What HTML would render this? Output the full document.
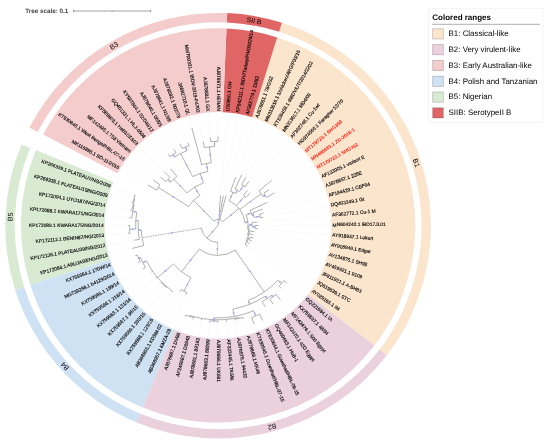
<!DOCTYPE html>
<html><head><meta charset="utf-8"><title>Tree</title>
<style>html,body{margin:0;padding:0;background:#fff}svg{display:block}</style></head>
<body>
<svg width="550" height="445" viewBox="0 0 550 445" font-family="'Liberation Sans', sans-serif" text-rendering="geometricPrecision">
<rect width="550" height="445" fill="#fff"/>
<path d="M30.2 284.8A197.1 197.1 0 0 1 35.9 150.1L113.4 182.1A113.3 113.3 0 0 0 110.1 259.6Z" fill="#d9ead3"/>
<path d="M15.2 289.9A212.8 212.8 0 0 1 21.4 144.4L30.1 148A203.4 203.4 0 0 0 24.2 287Z" fill="#d9ead3"/>
<path d="M142.8 407.6A197.1 197.1 0 0 1 30.2 284.8L110.1 259.6A113.3 113.3 0 0 0 174.8 330.1Z" fill="#cfe2f3"/>
<path d="M136.8 422.4A212.8 212.8 0 0 1 15.2 289.9L24.2 287A203.4 203.4 0 0 0 140.4 413.7Z" fill="#cfe2f3"/>
<path d="M374.6 345.3A197.1 197.1 0 0 1 142.8 407.6L174.8 330.1A113.3 113.3 0 0 0 308 294.3Z" fill="#ead1dc"/>
<path d="M387 355.1A212.8 212.8 0 0 1 136.8 422.4L140.4 413.7A203.4 203.4 0 0 0 379.6 349.4Z" fill="#ead1dc"/>
<path d="M277.2 37.4A197.1 197.1 0 0 1 374.6 345.3L308 294.3A113.3 113.3 0 0 0 252.1 117.3Z" fill="#fce5cd"/>
<path d="M281.9 22.7A212.8 212.8 0 0 1 387 355.1L379.6 349.4A203.4 203.4 0 0 0 279.1 31.7Z" fill="#fce5cd"/>
<path d="M226.5 28.5A197.1 197.1 0 0 1 277.2 37.4L252.1 117.3A113.3 113.3 0 0 0 222.9 112.2Z" fill="#e06666"/>
<path d="M227.2 13.1A212.8 212.8 0 0 1 281.9 22.7L279.1 31.7A203.4 203.4 0 0 0 226.8 22.5Z" fill="#e06666"/>
<path d="M43.2 134.5A197.1 197.1 0 0 1 226.5 28.5L222.9 112.2A113.3 113.3 0 0 0 117.6 173.2Z" fill="#f4cccc"/>
<path d="M29.3 127.6A212.8 212.8 0 0 1 227.2 13.1L226.8 22.5A203.4 203.4 0 0 0 37.6 131.9Z" fill="#f4cccc"/>
<path d="M134 194.9L111.6 186.7M131.6 202.3L108.6 196.2M130.4 210L106.5 205.8M129.4 217.7L105.2 215.6M128.1 225.5L104.8 225.5M128 233.4L105.2 235.4M134.4 240.2L106.5 245.2M132.2 248.5L108.7 254.8M135.4 255.6L111.7 264.2M138.4 262.7L115.5 273.4M142.8 269L120 282.1M151.4 272.2L125.3 290.5M155.7 277.8L131.4 298.3M160.3 283.3L138.1 305.6M165.6 288.1L145.3 312.3M171.4 292.2L153.2 318.3M179.9 291.7L161.5 323.6M185.8 294.8L170.3 328.1M185 316.6L179.4 331.9M193.1 319.1L188.9 334.9M201.5 320.3L198.5 337M209.7 322.5L208.3 338.3M218.2 322.4L218.2 338.7M226.6 321.5L228.1 338.3M234.9 320.4L237.9 337M243.3 319.1L247.5 334.8M254.1 324L256.9 331.8M262.6 320.5L266.1 328M265.2 306.8L274.8 323.5M273.2 304L283.2 318.2M280.5 299.7L291 312.1M281.1 288.3L298.3 305.4M286.7 282.9L305 298.2M247.6 246L311 290.3M249.7 243.6L316.3 282M251.6 241L320.8 273.2M253.3 238.2L324.6 264.1M252.9 234.7L327.6 254.6M254.5 231.8L329.7 245M258 228.9L331 235.2M258.6 225.4L331.4 225.3M256.9 222L331 215.4M263.4 217.4L329.7 205.6M263.5 213.2L327.5 196M262.6 209.1L324.5 186.6M267 202.5L320.7 177.4M274.4 192.9L316.2 168.7M268.9 189.8L310.9 160.3M271.7 180.4L304.8 152.5M250.2 193.2L298.1 145.2M247.3 190.5L290.9 138.5M249 181.1L283 132.5M246.1 176.9L274.7 127.2M241.6 175L265.9 122.7M235.7 177L256.8 118.9M226.1 195.4L247.3 115.9M223.3 195.9L237.7 113.8M220.7 195.5L227.9 112.5M218 136.4L218 112.1M210.4 137.7L208.1 112.5M203.3 141.7L198.3 113.8M191.9 127.9L188.7 116M187.9 142.7L179.3 119M180 143.9L170.1 122.8M174 149.2L161.4 127.3M168.1 154.2L153 132.6M170.5 168.8L145.2 138.7M164.3 171.7L137.9 145.4M160.6 177.2L131.2 152.6M153.3 180.1L125.2 160.5M147.9 185L119.9 168.8" fill="none" stroke="#f3f3f3" stroke-width="0.4"/>
<path d="M135.2 195.3L134 194.9M132.9 202.6L131.6 202.3M132.9 202.6A88.2 88.2 0 0 1 135.2 195.3M134.6 199.2L134 199M131.9 210.3L130.4 210M131.9 210.3A87.5 87.5 0 0 1 134.6 199.2M134.1 204.9L133.1 204.7M131.9 217.9L129.4 217.7M131.9 217.9A86.5 86.5 0 0 1 134.1 204.9M136.7 212L132.7 211.4M129.6 225.5L128.1 225.5M129.9 233.2L128 233.4M129.9 233.2A88.5 88.5 0 0 1 129.6 225.5M135.7 229.1L129.7 229.3M135.7 229.1A82.5 82.5 0 0 1 136.7 212M138.2 220.7L135.7 220.5M139.3 239.4L134.4 240.2M139.3 239.4A80 80 0 0 1 138.2 220.7M141.2 229.9L138.2 230M143.7 245.4L132.2 248.5M143.7 245.4A77 77 0 0 1 141.2 229.9M137.3 254.9L135.4 255.6M140.2 261.8L138.4 262.7M140.2 261.8A86 86 0 0 1 137.3 254.9M140.5 257.6L138.7 258.4M145.4 267.5L142.8 269M145.4 267.5A84 84 0 0 1 140.5 257.6M146.4 260.8L142.8 262.6M152.6 271.3L151.4 272.2M156.9 276.9L155.7 277.8M161.1 282.5L160.3 283.3M166.3 287.3L165.6 288.1M166.3 287.3A80.7 80.7 0 0 1 161.1 282.5M164.1 284.4L163.6 284.9M172.3 291L171.4 292.2M172.3 291A80 80 0 0 1 146.4 260.8M173.4 264L157.5 277.7M181.2 289.5L179.9 291.7M186.9 292.5L185.8 294.8M186.9 292.5A74 74 0 0 1 181.2 289.5M190.9 277.8L184 291.1M190.9 277.8A59 59 0 0 1 173.4 264M199.5 248.9L181.5 271.7M185.6 315L185 316.6M193.5 317.5L193.1 319.1M193.5 317.5A95.3 95.3 0 0 1 185.6 315M189.8 315.6L189.5 316.3M201.8 318.5L201.5 320.3M209.8 320.8L209.7 322.5M218.2 321.2L218.2 322.4M218.2 321.2A95.8 95.8 0 0 1 209.8 320.8M214.1 319.8L214 321.1M226.4 319.5L226.6 321.5M234.7 319.2L234.9 320.4M242.8 317.4L243.3 319.1M242.8 317.4A95.3 95.3 0 0 1 234.7 319.2M238.6 317.6L238.8 318.4M238.6 317.6A94.5 94.5 0 0 1 189.8 315.6M214.1 317.8L214.1 319.8M251.7 317.5L254.1 324M259.6 314.2L262.6 320.5M259.6 314.2A98 98 0 0 1 251.7 317.5M253.6 310.8L255.7 315.9M253.6 310.8A92.5 92.5 0 0 1 214.1 317.8M232.9 309.1L234.2 316.5M262.2 301.6L265.2 306.8M269.8 299.1L273.2 304M276 294.3L280.5 299.7M276 294.3A90 90 0 0 1 269.8 299.1M271.7 295.2L273 296.8M271.7 295.2A88 88 0 0 1 262.2 301.6M265.4 296L267.1 298.5M265.4 296A85 85 0 0 1 232.9 309.1M248.3 300.5L249.8 304.3M279 286.2L281.1 288.3M284 280.6L286.7 282.9M284 280.6A86 86 0 0 1 279 286.2M277.9 280.1L281.6 283.4M277.9 280.1A81 81 0 0 1 248.3 300.5M235.2 250.1L264.3 292M235.2 250.1A30 30 0 0 1 199.5 248.9M217.6 242.4A17 17 0 0 1 201.3 228.1M218.1 225.4L206.9 238.2M245.1 244.3L247.6 246M246.7 241.9L249.7 243.6M248.9 239.7L251.6 241M250.1 237L253.3 238.2M250.1 237A34 34 0 0 1 248.9 239.7M248.6 238L249.5 238.4M248.6 238A33 33 0 0 1 245.1 244.3M246.1 241L246.9 241.5M249 233.7L252.9 234.7M249.6 230.9L254.5 231.8M249.6 230.9A32 32 0 0 1 246.1 241M247.6 235L248.5 235.3M255 228.6L258 228.9M255.1 225.4L258.6 225.4M255.1 225.4A37 37 0 0 1 255 228.6M252.1 226.9L255.1 227M252 222.4L256.9 222M252 222.4A34 34 0 0 1 252.1 226.9M249.1 224.7L252.1 224.6M249.1 224.7A31 31 0 0 1 247.6 235M247.8 229.8L248.8 229.9M260.4 217.9L263.4 217.4M259.6 214.2L263.5 213.2M259.6 214.2A43 43 0 0 1 260.4 217.9M254.2 217.4L260.1 216.1M252.9 212.7L262.6 209.1M252.9 212.7A37 37 0 0 1 254.2 217.4M252.1 215.5L253.6 215M250.2 210.4L267 202.5M250.2 210.4A35.4 35.4 0 0 1 252.1 215.5M246.2 214.8L251.2 212.9M246.2 214.8A30 30 0 0 1 247.8 229.8M244.9 222.5L247.9 222.2M266.6 197.4L274.4 192.9M263.9 193.2L268.9 189.8M263.9 193.2A56 56 0 0 1 266.6 197.4M263.1 196.7L265.3 195.3M259 191L271.7 180.4M259 191A53.4 53.4 0 0 1 263.1 196.7M239.9 209.4L261.1 193.8M246.1 197.4L250.2 193.2M243.5 195L247.3 190.5M243.5 195A39.6 39.6 0 0 1 246.1 197.4M236.3 205.5L244.8 196.2M245 186.9L249 181.1M241.6 184.7L246.1 176.9M241.6 184.7A47 47 0 0 1 245 186.9M239.6 191.6L243.3 185.7M235 189.1L241.6 175M235 189.1A40 40 0 0 1 239.6 191.6M235.5 193.6L237.3 190.3M230.5 191.3L235.7 177M230.5 191.3A36.3 36.3 0 0 1 235.5 193.6M229.2 200.8L233.1 192.3M229.2 200.8A27 27 0 0 1 244.9 222.5M222.8 221.6L239.1 208.4M220.2 217.7L226.1 195.4M220.5 211.6L223.3 195.9M219.3 211.5L220.7 195.5M219.3 211.5A14 14 0 0 1 220.5 211.6M219.1 217.5L219.9 211.5M219.1 217.5A8 8 0 0 1 220.2 217.7M219.3 219.5L219.7 217.6M218 141.4L218 136.4M210.7 141.7L210.4 137.7M210.7 141.7A84 84 0 0 1 218 141.4M214.6 146.5L214.4 141.5M204.3 147.6L203.3 141.7M204.3 147.6A79 79 0 0 1 214.6 146.5M211.2 162.8L209.4 146.9M201.7 164.6L191.9 127.9M201.7 164.6A63 63 0 0 1 211.2 162.8M207.9 171.4L206.4 163.5M189 145.6L187.9 142.7M182.1 148.4L180 143.9M182.1 148.4A85 85 0 0 1 189 145.6M187 150.6L185.5 146.9M176 152.7L174 149.2M169.9 156.6L168.1 154.2M169.9 156.6A84 84 0 0 1 176 152.7M174.5 157.1L172.9 154.6M174.5 157.1A81 81 0 0 1 187 150.6M192.7 176.6L180.6 153.6M192.7 176.6A55 55 0 0 1 207.9 171.4M203.4 182.9L200.1 173.4M176.9 176.4L170.5 168.8M170 177.4L164.3 171.7M166 181.7L160.6 177.2M166 181.7A68 68 0 0 1 170 177.4M170.9 182.2L167.9 179.5M170.9 182.2A64 64 0 0 1 176.9 176.4M187 192.9L173.8 179.2M187 192.9A45 45 0 0 1 203.4 182.9M199.8 195.5L194.6 187M159.9 184.7L153.3 180.1M156.6 190L147.9 185M156.6 190A71 71 0 0 1 159.9 184.7M188.6 206.6L158.2 187.3M188.6 206.6A35 35 0 0 1 199.8 195.5M213.9 221.1L193.6 200.4M213.9 221.1A6 6 0 0 1 222.8 221.6M218.1 225.4L218.7 219.4" fill="none" stroke="#7d7d7d" stroke-width="0.6"/>
<path d="M201.3 228.1L142.1 237.7M217.6 242.4L217.2 255.4" fill="none" stroke="#777" stroke-width="0.6" stroke-dasharray="1.6 0.9"/>
<g fill="#a3a8ff"><circle cx="134.7" cy="211.7" r="0.95"/><circle cx="132.7" cy="229.2" r="0.95"/><circle cx="137" cy="220.6" r="0.95"/><circle cx="139.7" cy="230" r="0.95"/><circle cx="171.7" cy="232.9" r="0.95"/><circle cx="139.6" cy="258" r="0.95"/><circle cx="144.6" cy="261.7" r="0.95"/><circle cx="165.5" cy="270.8" r="0.95"/><circle cx="187.4" cy="284.4" r="0.95"/><circle cx="190.5" cy="260.3" r="0.95"/><circle cx="214" cy="320.5" r="0.95"/><circle cx="214.1" cy="318.8" r="0.95"/><circle cx="254.6" cy="313.4" r="0.95"/><circle cx="233.6" cy="312.8" r="0.95"/><circle cx="272.3" cy="296" r="0.95"/><circle cx="266.2" cy="297.3" r="0.95"/><circle cx="249.1" cy="302.4" r="0.95"/><circle cx="279.7" cy="281.8" r="0.95"/><circle cx="249.7" cy="271" r="0.95"/><circle cx="217.4" cy="248.9" r="0.95"/><circle cx="212.5" cy="231.8" r="0.95"/><circle cx="253.6" cy="226.9" r="0.95"/><circle cx="250.6" cy="224.7" r="0.95"/><circle cx="257.1" cy="216.7" r="0.95"/><circle cx="252.8" cy="215.2" r="0.95"/><circle cx="248.7" cy="213.9" r="0.95"/><circle cx="246.4" cy="222.3" r="0.95"/><circle cx="264.2" cy="196" r="0.95"/><circle cx="250.5" cy="201.6" r="0.95"/><circle cx="240.6" cy="200.8" r="0.95"/><circle cx="241.4" cy="188.7" r="0.95"/><circle cx="236.4" cy="191.9" r="0.95"/><circle cx="231.1" cy="196.6" r="0.95"/><circle cx="230.9" cy="215" r="0.95"/><circle cx="219.5" cy="214.5" r="0.95"/><circle cx="219.5" cy="218.5" r="0.95"/><circle cx="214.5" cy="144" r="0.95"/><circle cx="210.3" cy="154.8" r="0.95"/><circle cx="207.2" cy="167.4" r="0.95"/><circle cx="186.3" cy="148.7" r="0.95"/><circle cx="173.7" cy="155.9" r="0.95"/><circle cx="186.6" cy="165.1" r="0.95"/><circle cx="201.7" cy="178.2" r="0.95"/><circle cx="169.4" cy="180.9" r="0.95"/><circle cx="180.4" cy="186.1" r="0.95"/><circle cx="197.2" cy="191.3" r="0.95"/><circle cx="173.4" cy="197" r="0.95"/><circle cx="203.7" cy="210.8" r="0.95"/><circle cx="218.4" cy="222.4" r="0.95"/></g>
<g font-size="48.5" fill="#000" stroke="#000" stroke-width="1.3">
<text transform="translate(218.1 225.4) rotate(379.9) scale(.1)" x="-1145" y="13" text-anchor="end">KP266339.1 PLATEAU7/NG/2009</text>
<text transform="translate(218.1 225.4) rotate(374.9) scale(.1)" x="-1145" y="13" text-anchor="end">KP266335.1 PLATEAU19/NG/2009</text>
<text transform="translate(218.1 225.4) rotate(369.9) scale(.1)" x="-1145" y="13" text-anchor="end">KP172094.1 UYO187/NG/2014</text>
<text transform="translate(218.1 225.4) rotate(364.9) scale(.1)" x="-1145" y="13" text-anchor="end">KP172088.1 KWARA171/NG/2014</text>
<text transform="translate(218.1 225.4) rotate(359.9) scale(.1)" x="-1145" y="13" text-anchor="end">KP172089.1 KWARA175/NG/2014</text>
<text transform="translate(218.1 225.4) rotate(354.9) scale(.1)" x="-1145" y="13" text-anchor="end">KP172112.1 BENIN87/NG/2013</text>
<text transform="translate(218.1 225.4) rotate(349.9) scale(.1)" x="-1145" y="13" text-anchor="end">KP172136.1 PLATEAU39/NG/2012</text>
<text transform="translate(218.1 225.4) rotate(344.9) scale(.1)" x="-1145" y="13" text-anchor="end">KP172084.1 ABUJA93/NG/2013</text>
<text transform="translate(218.1 225.4) rotate(339.9) scale(.1)" x="-1145" y="13" text-anchor="end">KX759564.1 170W/14</text>
<text transform="translate(218.1 225.4) rotate(334.9) scale(.1)" x="-1145" y="13" text-anchor="end">MG739298.1 b4129/2014</text>
<text transform="translate(218.1 225.4) rotate(329.9) scale(.1)" x="-1145" y="13" text-anchor="end">KX759565.1 189/14</text>
<text transform="translate(218.1 225.4) rotate(324.9) scale(.1)" x="-1145" y="13" text-anchor="end">KX759566.1 216/14</text>
<text transform="translate(218.1 225.4) rotate(319.9) scale(.1)" x="-1145" y="13" text-anchor="end">KX759563.1 131/14</text>
<text transform="translate(218.1 225.4) rotate(314.9) scale(.1)" x="-1145" y="13" text-anchor="end">KX759567.1 96/15</text>
<text transform="translate(218.1 225.4) rotate(309.9) scale(.1)" x="-1145" y="13" text-anchor="end">KX759569.1 200/15</text>
<text transform="translate(218.1 225.4) rotate(304.9) scale(.1)" x="-1145" y="13" text-anchor="end">KX759568.1 123/15</text>
<text transform="translate(218.1 225.4) rotate(299.9) scale(.1)" x="-1145" y="13" text-anchor="end">AB368955.1 KDSM-02</text>
<text transform="translate(218.1 225.4) rotate(294.9) scale(.1)" x="-1145" y="13" text-anchor="end">AB368957.1 KMZA-28</text>
<text transform="translate(218.1 225.4) rotate(289.9) scale(.1)" x="-1145" y="13" text-anchor="end">AJ878667.1 DV86</text>
<text transform="translate(218.1 225.4) rotate(284.9) scale(.1)" x="-1145" y="13" text-anchor="end">AF240687.1 D6948</text>
<text transform="translate(218.1 225.4) rotate(279.9) scale(.1)" x="-1145" y="13" text-anchor="end">AJ878661.1 89163</text>
<text transform="translate(218.1 225.4) rotate(274.9) scale(.1)" x="-1145" y="13" text-anchor="end">AJ878663.1 89299</text>
<text transform="translate(218.1 225.4) rotate(89.9) scale(.1)" x="1145" y="13">AJ878666.1 UK661</text>
<text transform="translate(218.1 225.4) rotate(84.9) scale(.1)" x="1145" y="13">AF322445.1 TASIK</text>
<text transform="translate(218.1 225.4) rotate(79.9) scale(.1)" x="1145" y="13">AJ878678.1 94432</text>
<text transform="translate(218.1 225.4) rotate(74.9) scale(.1)" x="1145" y="13">AJ878668.1 HK46</text>
<text transform="translate(218.1 225.4) rotate(69.9) scale(.1)" x="1145" y="13">KT630646.1 Guwahati/HBL-07-15</text>
<text transform="translate(218.1 225.4) rotate(64.9) scale(.1)" x="1145" y="13">KT630644.1 Guwahati/HBL-06-15</text>
<text transform="translate(218.1 225.4) rotate(59.9) scale(.1)" x="1145" y="13">GQ449693.1 HuB-1</text>
<text transform="translate(218.1 225.4) rotate(54.9) scale(.1)" x="1145" y="13">MF142470.1 42D Egypt</text>
<text transform="translate(218.1 225.4) rotate(49.9) scale(.1)" x="1145" y="13">MF142474.1 S00 Egypt</text>
<text transform="translate(218.1 225.4) rotate(44.9) scale(.1)" x="1145" y="13">KX759537.1 48/94</text>
<text transform="translate(218.1 225.4) rotate(39.9) scale(.1)" x="1145" y="13">GQ221684.1 IA</text>
<text transform="translate(218.1 225.4) rotate(34.9) scale(.1)" x="1145" y="13">AY029165.1 IM</text>
<text transform="translate(218.1 225.4) rotate(29.9) scale(.1)" x="1145" y="13">JQ619639.1 STC</text>
<text transform="translate(218.1 225.4) rotate(24.9) scale(.1)" x="1145" y="13">JF811921.1 A-BH83</text>
<text transform="translate(218.1 225.4) rotate(19.9) scale(.1)" x="1145" y="13">AY459321.1 9109</text>
<text transform="translate(218.1 225.4) rotate(14.9) scale(.1)" x="1145" y="13">AY134875.1 SH95</text>
<text transform="translate(218.1 225.4) rotate(9.9) scale(.1)" x="1145" y="13">AY918949.1 Edgar</text>
<text transform="translate(218.1 225.4) rotate(4.9) scale(.1)" x="1145" y="13">AY918947.1 Lukert</text>
<text transform="translate(218.1 225.4) rotate(-0.1) scale(.1)" x="1145" y="13">MN604242.1 IBD17JL01</text>
<text transform="translate(218.1 225.4) rotate(-5.1) scale(.1)" x="1145" y="13">AF362772.1 Cu-1 M</text>
<text transform="translate(218.1 225.4) rotate(-10.1) scale(.1)" x="1145" y="13">DQ403249.1 Gt</text>
<text transform="translate(218.1 225.4) rotate(-15.1) scale(.1)" x="1145" y="13">AF194429.1 CEF94</text>
<text transform="translate(218.1 225.4) rotate(-20.1) scale(.1)" x="1145" y="13">AJ878657.1 228E</text>
<text transform="translate(218.1 225.4) rotate(-25.1) scale(.1)" x="1145" y="13">AF133905.1 variant E</text>
<text transform="translate(218.1 225.4) rotate(-30.1) scale(.1)" x="1145" y="13" fill="#ff1a0d" stroke="none" font-weight="bold">MT179722.1 SHG352</text>
<text transform="translate(218.1 225.4) rotate(-35.1) scale(.1)" x="1145" y="13" fill="#ff1a0d" stroke="none" font-weight="bold">MN485883.1 ZD-2018-1</text>
<text transform="translate(218.1 225.4) rotate(-40.1) scale(.1)" x="1145" y="13" fill="#ff1a0d" stroke="none" font-weight="bold">MT179723.1 SHG358</text>
<text transform="translate(218.1 225.4) rotate(-45.1) scale(.1)" x="1145" y="13">HG974566.1 Faragher 52/70</text>
<text transform="translate(218.1 225.4) rotate(-50.1) scale(.1)" x="1145" y="13">AF362748.1 Cu-1wt</text>
<text transform="translate(218.1 225.4) rotate(-55.1) scale(.1)" x="1145" y="13">MN313617.1 MD4/09</text>
<text transform="translate(218.1 225.4) rotate(-60.1) scale(.1)" x="1145" y="13">KT336458.1 dIBDV/UT/2014/2202</text>
<text transform="translate(218.1 225.4) rotate(-65.1) scale(.1)" x="1145" y="13">MN313616.1 1/chicken/ARG/P33/15</text>
<text transform="translate(218.1 225.4) rotate(-70.1) scale(.1)" x="1145" y="13">AJ878651.1 78/GSZ</text>
<text transform="translate(218.1 225.4) rotate(-75.1) scale(.1)" x="1145" y="13">AF362774.1 23/82</text>
<text transform="translate(218.1 225.4) rotate(-80.1) scale(.1)" x="1145" y="13">KP642111.1 IBDV/Turkey/PA/00924/14</text>
<text transform="translate(218.1 225.4) rotate(-85.1) scale(.1)" x="1145" y="13">U30950.1 OH</text>
<text transform="translate(218.1 225.4) rotate(449.9) scale(.1)" x="-1145" y="13" text-anchor="end">AJ878671.1 HENAN</text>
<text transform="translate(218.1 225.4) rotate(444.9) scale(.1)" x="-1145" y="13" text-anchor="end">AJ878681.1 GX</text>
<text transform="translate(218.1 225.4) rotate(439.9) scale(.1)" x="-1145" y="13" text-anchor="end">MW700331.1 IBDV-2019-F4702</text>
<text transform="translate(218.1 225.4) rotate(434.9) scale(.1)" x="-1145" y="13" text-anchor="end">JX682710.1 QL</text>
<text transform="translate(218.1 225.4) rotate(429.9) scale(.1)" x="-1145" y="13" text-anchor="end">AJ878682.1 002/73</text>
<text transform="translate(218.1 225.4) rotate(424.9) scale(.1)" x="-1145" y="13" text-anchor="end">AJ878641.1 N1/99</text>
<text transform="translate(218.1 225.4) rotate(419.9) scale(.1)" x="-1145" y="13" text-anchor="end">AJ878640.1 06/95</text>
<text transform="translate(218.1 225.4) rotate(414.9) scale(.1)" x="-1145" y="13" text-anchor="end">KY597864.1 02/049/12</text>
<text transform="translate(218.1 225.4) rotate(409.9) scale(.1)" x="-1145" y="13" text-anchor="end">GQ451331.1 HLJ-0504</text>
<text transform="translate(218.1 225.4) rotate(404.9) scale(.1)" x="-1145" y="13" text-anchor="end">KF569802.1 HeB10XS03</text>
<text transform="translate(218.1 225.4) rotate(399.9) scale(.1)" x="-1145" y="13" text-anchor="end">MF142495.1 753 Vietnam</text>
<text transform="translate(218.1 225.4) rotate(394.9) scale(.1)" x="-1145" y="13" text-anchor="end">KT630645.1 West Bengal/HBL-07-15</text>
<text transform="translate(218.1 225.4) rotate(389.9) scale(.1)" x="-1145" y="13" text-anchor="end">MK116895.1 BD-11/2016</text>
</g>
<g font-size="7" fill="#000" text-anchor="middle">
<text transform="translate(10.2 216.8) rotate(272.4)" y="2.5">B5</text>
<text transform="translate(64.8 366.4) rotate(227.4)" y="2.5">B4</text>
<text transform="translate(272.1 426.7) rotate(164.9)" y="2.5">B2</text>
<text transform="translate(416.5 162.9) rotate(72.4)" y="2.5">B1</text>
<text transform="translate(254.1 20.7) rotate(9.9)" y="2.5">SII B</text>
<text transform="translate(113.9 45.6) rotate(329.9)" y="2.5">B3</text>
</g>
<text x="25.2" y="13.2" font-size="6.3" font-weight="bold" fill="#444">Tree scale: 0.1</text>
<path d="M73.4 11H150.8M73.6 9.8V12.2M150.6 9.8V12.2M112.1 10.4V11.6" stroke="#666" stroke-width="0.6" fill="none"/>
<rect x="428.6" y="8.6" width="114.4" height="114" fill="#fff" stroke="#efefef" stroke-width="0.6"/>
<text x="432.3" y="19.6" font-size="8" font-weight="bold" fill="#000">Colored ranges</text>
<path d="M432.3 24.3H540" stroke="#777" stroke-width="0.6"/>
<rect x="432.7" y="28.8" width="10.6" height="10.2" fill="#fce5cd" stroke="#000" stroke-opacity=".25" stroke-width="0.7"/>
<text x="448.6" y="35.8" font-size="7.9" fill="#000">B1: Classical-like</text>
<rect x="432.7" y="44.6" width="10.6" height="10.2" fill="#ead1dc" stroke="#000" stroke-opacity=".25" stroke-width="0.7"/>
<text x="448.6" y="51.7" font-size="7.9" fill="#000">B2: Very virulent-like</text>
<rect x="432.7" y="60.4" width="10.6" height="10.2" fill="#f4cccc" stroke="#000" stroke-opacity=".25" stroke-width="0.7"/>
<text x="448.6" y="67.6" font-size="7.9" fill="#000">B3: Early Australian-like</text>
<rect x="432.7" y="76.2" width="10.6" height="10.2" fill="#cfe2f3" stroke="#000" stroke-opacity=".25" stroke-width="0.7"/>
<text x="448.6" y="83.5" font-size="7.9" fill="#000">B4: Polish and Tanzanian</text>
<rect x="432.7" y="92" width="10.6" height="10.2" fill="#d9ead3" stroke="#000" stroke-opacity=".25" stroke-width="0.7"/>
<text x="448.6" y="99.4" font-size="7.9" fill="#000">B5: Nigerian</text>
<rect x="432.7" y="107.8" width="10.6" height="10.2" fill="#e06666" stroke="#000" stroke-opacity=".25" stroke-width="0.7"/>
<text x="448.6" y="115.3" font-size="7.9" fill="#000">SIIB: SerotypeII B</text>
</svg>
</body></html>
